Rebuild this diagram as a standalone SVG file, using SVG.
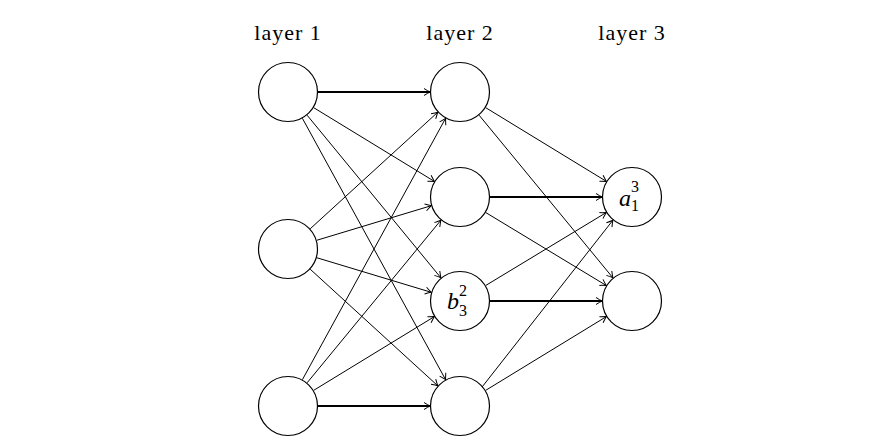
<svg xmlns="http://www.w3.org/2000/svg" width="896" height="446" viewBox="0 0 896 446">
<style>
.n{fill:#fff;stroke:#000;stroke-width:1.2}
.e{stroke:#000;stroke-width:1;fill:none;marker-end:url(#ah)}
.t{stroke-width:2}
.lab{font-family:"Liberation Serif",serif;font-size:22px;letter-spacing:1px;text-anchor:middle}
.m{font-family:"Liberation Serif",serif;font-style:italic;font-size:24px}
.s{font-family:"Liberation Serif",serif;font-size:16px}
</style>
<defs>
<marker id="ah" markerUnits="userSpaceOnUse" viewBox="-8 -5 10 10" refX="0" refY="0" markerWidth="10" markerHeight="10" orient="auto">
<path d="M-6,-3.5 Q-2,-1 0,0 Q-2,1 -6,3.5" fill="none" stroke="#000" stroke-width="1"/>
</marker>
</defs>
<rect width="896" height="446" fill="#fff"/>
<text class="lab" x="288" y="40">layer 1</text>
<text class="lab" x="460" y="40">layer 2</text>
<text class="lab" x="632" y="40">layer 3</text>
<g id="connectors">
<path class="e t" d="M318,92L430,92"/>
<path class="e" d="M313.6,107.6L434.4,181.4"/>
<path class="e" d="M307.1,115.2L440.9,277.8"/>
<path class="e" d="M302.4,118.3L445.6,379.7"/>
<path class="e" d="M310.2,228.8L437.8,112.2"/>
<path class="e" d="M316.7,240.3L431.3,205.7"/>
<path class="e" d="M316.7,257.7L431.3,292.3"/>
<path class="e" d="M310.2,269.2L437.8,385.8"/>
<path class="e" d="M302.4,379.7L445.6,118.3"/>
<path class="e" d="M307.1,382.8L440.9,220.2"/>
<path class="e" d="M313.6,390.4L434.4,316.6"/>
<path class="e t" d="M318,406L430,406"/>
<path class="e" d="M485.6,107.6L606.4,181.4"/>
<path class="e" d="M479.1,115.2L612.9,277.8"/>
<path class="e t" d="M490,197L602,197"/>
<path class="e" d="M485.7,212.5L606.3,285.5"/>
<path class="e" d="M485.7,285.5L606.3,212.5"/>
<path class="e t" d="M490,301L602,301"/>
<path class="e" d="M479.1,390.8L612.9,220.2"/>
<path class="e" d="M485.6,390.4L606.4,316.6"/>
</g>
<g id="a1"><circle class="n" cx="288" cy="92" r="29.5"/></g>
<g id="a2"><circle class="n" cx="288" cy="249" r="29.5"/></g>
<g id="a3"><circle class="n" cx="288" cy="406" r="29.5"/></g>
<g id="b1"><circle class="n" cx="460" cy="92" r="29.5"/></g>
<g id="b2"><circle class="n" cx="460" cy="197" r="29.5"/></g>
<g id="b3"><circle class="n" cx="460" cy="301" r="29.5"/>
<text class="m" x="447" y="309">b</text><text class="s" x="459" y="296">2</text><text class="s" x="459" y="316">3</text></g>
<g id="b4"><circle class="n" cx="460" cy="406" r="29.5"/></g>
<g id="c1"><circle class="n" cx="632" cy="197" r="29.5"/>
<text class="m" x="619" y="206">a</text><text class="s" x="631" y="192">3</text><text class="s" x="631" y="211">1</text></g>
<g id="c2"><circle class="n" cx="632" cy="301" r="29.5"/></g>
</svg>
